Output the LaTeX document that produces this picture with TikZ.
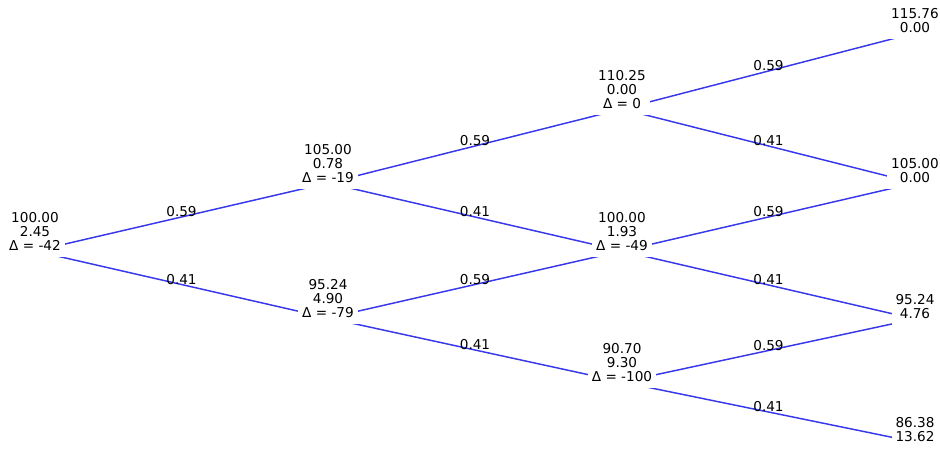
\documentclass[tikz,border=0pt]{standalone}
\usepackage{fontspec}
\setmainfont{DejaVu Sans}
\definecolor{edgeblue}{RGB}{55,55,235}
\tikzset{
  price/.style={fill=white, align=center, anchor=south, inner xsep=3pt,
    inner ysep=5pt, yshift=-5pt, font=\fontsize{10.2}{10.5}\selectfont},
  branch/.style={draw=edgeblue, line width=1.1pt},
  prob/.style={midway, yshift=4pt, inner sep=0pt,
    font=\fontsize{10.2}{10.5}\selectfont}
}
\begin{document}
\begin{tikzpicture}[x=0.75pt,y=-0.75pt]
\useasboundingbox (0,0) rectangle (940,451);
\coordinate (r) at (35,251);
\coordinate (u) at (328,183);
\coordinate (d) at (328,318);
\coordinate (uu) at (622,109);
\coordinate (ud) at (622,251);
\coordinate (dd) at (622,382);
\coordinate (uuu) at (915,33);
\coordinate (uud) at (915,183);
\coordinate (udd) at (915,319);
\coordinate (ddd) at (915,442);

\draw[branch] (r) -- node[prob] {0.59} (u);
\draw[branch] (r) -- node[prob] {0.41} (d);
\draw[branch] (u) -- node[prob] {0.59} (uu);
\draw[branch] (u) -- node[prob] {0.41} (ud);
\draw[branch] (d) -- node[prob] {0.59} (ud);
\draw[branch] (d) -- node[prob] {0.41} (dd);
\draw[branch] (uu) -- node[prob] {0.59} (uuu);
\draw[branch] (uu) -- node[prob] {0.41} (uud);
\draw[branch] (ud) -- node[prob] {0.59} (uud);
\draw[branch] (ud) -- node[prob] {0.41} (udd);
\draw[branch] (dd) -- node[prob] {0.59} (udd);
\draw[branch] (dd) -- node[prob] {0.41} (ddd);

\node[price] (r-txt) at (r) {100.00\\2.45\\Δ = -42};
\node[price] (u-txt) at (u) {105.00\\0.78\\Δ = -19};
\node[price] (d-txt) at (d) {95.24\\4.90\\Δ = -79};
\node[price] (uu-txt) at (uu) {110.25\\0.00\\Δ = 0};
\node[price] (ud-txt) at (ud) {100.00\\1.93\\Δ = -49};
\node[price] (dd-txt) at (dd) {90.70\\9.30\\Δ = -100};
\node[price] (uuu-txt) at (uuu) {115.76\\0.00};
\node[price] (uud-txt) at (uud) {105.00\\0.00};
\node[price] (udd-txt) at (udd) {95.24\\4.76};
\node[price] (ddd-txt) at (ddd) {86.38\\13.62};
\end{tikzpicture}
\end{document}
